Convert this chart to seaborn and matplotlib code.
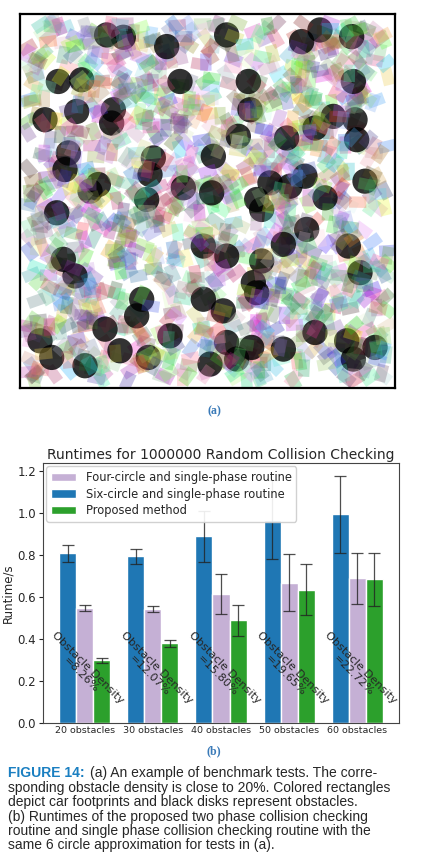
import numpy as np
import pandas as pd
import matplotlib
matplotlib.use("Agg")
import matplotlib.pyplot as plt
import seaborn as sns
from matplotlib.patches import Rectangle, Circle
import matplotlib.transforms as mtransforms

# ---------------------------------------------------------------
# data
# ---------------------------------------------------------------
groups = ["20 obstacles", "30 obstacles", "40 obstacles", "50 obstacles", "60 obstacles"]
densities = ["8.26%", "12.07%", "15.80%", "19.65%", "22.72%"]
six_mean = [0.81, 0.795, 0.89, 0.97, 0.995]
six_err = [0.04, 0.035, 0.12, 0.19, 0.185]
four_mean = [0.55, 0.545, 0.615, 0.67, 0.69]
four_err = [0.015, 0.015, 0.097, 0.137, 0.122]
prop_mean = [0.30, 0.38, 0.49, 0.635, 0.685]
prop_err = [0.012, 0.016, 0.075, 0.122, 0.127]

series = ["Six-circle and single-phase routine",
          "Four-circle and single-phase routine",
          "Proposed method"]
colors = ["#1f77b4", "#c5b0d5", "#2ca02c"]

# obstacle disk centres, in image-zoom units (box = 0..1125)
disk_x = [260, 310, 440, 620, 845, 900, 995, 115, 185, 480, 685, 1000,
          75, 170, 280, 275, 690, 655, 800, 885, 940, 1005, 1010, 145, 135,
          400, 390, 235, 210, 380, 490, 580, 575, 750, 810, 855, 915, 1035,
          710, 725, 110, 860, 550, 620, 790, 725, 985, 1020, 130, 165, 365,
          350, 550, 610, 710, 700, 255, 450, 60, 95, 195, 300, 385, 570, 620,
          650, 695, 790, 885, 980, 1065, 1000]
disk_y = [63, 70, 98, 63, 83, 48, 68, 203, 198, 203, 203, 203,
          318, 293, 288, 328, 288, 368, 373, 343, 308, 318, 378, 418, 468,
          433, 483, 513, 533, 558, 523, 428, 538, 508, 518, 488, 553, 503,
          558, 588, 598, 648, 698, 728, 693, 743, 698, 778, 738, 788, 858,
          908, 858, 893, 838, 808, 948, 968, 983, 1033, 1058, 1013, 1033,
          1053, 988, 1038, 1003, 1008, 958, 983, 1003, 1038]

df = pd.DataFrame({
    "group": groups * 3,
    "series": sum([[s] * 5 for s in series], []),
    "runtime": six_mean + four_mean + prop_mean,
})
errs = six_err + four_err + prop_err

# ---------------------------------------------------------------
# figure
# ---------------------------------------------------------------
sns.set_style("white")
plt.rcParams["font.family"] = ["DejaVu Sans"]
W, H = 428, 863
fig = plt.figure(figsize=(W / 100, H / 100), dpi=100)

def box(l, t, r, b):
    return [l / W, 1 - b / H, (r - l) / W, (b - t) / H]

# ---- (a) benchmark scene ----
axa = fig.add_axes(box(20, 14, 395, 388))
axa.set_xlim(0, 1125)
axa.set_ylim(1125, 0)

# car footprints: texture of random translucent rectangles
rng = np.random.default_rng(14)
n_rect = 1300
rx = rng.uniform(20, 1105, n_rect)
ry = rng.uniform(20, 1105, n_rect)
ang = rng.uniform(0, 180, n_rect)
cols = rng.uniform(0.1, 1.0, (n_rect, 3))

def add_rect(x, y, a, c, z):
    r = Rectangle((x - 26, y - 17), 52, 34, facecolor=c, alpha=0.3,
                  edgecolor="none", zorder=z)
    r.set_transform(mtransforms.Affine2D().rotate_deg_around(x, y, a) + axa.transData)
    axa.add_patch(r)
    r.set_clip_path(axa.patch)

for x, y, a, c in zip(rx[:700], ry[:700], ang[:700], cols[:700]):
    add_rect(x, y, a, c, 1)
for x, y in zip(disk_x, disk_y):
    axa.add_patch(Circle((x, y), 38, facecolor="black", alpha=0.8,
                         edgecolor="none", zorder=2))
for x, y, a, c in zip(rx[700:], ry[700:], ang[700:], cols[700:]):
    add_rect(x, y, a, c, 3)
axa.set_xticks([])
axa.set_yticks([])
for s in axa.spines.values():
    s.set_linewidth(1.6)
    s.set_color("black")
    s.set_zorder(5)

fig.text(214 / W, 1 - 411 / H, "(a)", ha="center", va="center",
         color="#3a7ab8", fontsize=8.5, fontweight="bold", family="Liberation Serif")

# ---- (b) runtimes ----
axb = fig.add_axes(box(43, 463, 399, 723))
sns.barplot(data=df, x="group", y="runtime", hue="series", hue_order=series,
            palette=colors, width=0.75, saturation=1, errorbar=None, ax=axb)
bars = axb.patches[:15]
for p, e in zip(bars, errs):
    cx = p.get_x() + p.get_width() / 2
    axb.errorbar(cx, p.get_height(), yerr=e, fmt="none", ecolor="#222222",
                 elinewidth=0.9, capsize=4, capthick=0.9, alpha=0.8)
for i, d in enumerate(densities):
    cx = bars[5 + i].get_x() + bars[5 + i].get_width() / 2
    axb.text(cx, 0.245, "Obstacle Density\n=" + d, rotation=-45,
             ha="center", va="center", fontsize=8.2, rotation_mode="anchor",
             linespacing=1.0)
axb.set_ylim(0, 1.24)
axb.set_yticks([0, 0.2, 0.4, 0.6, 0.8, 1.0, 1.2])
axb.set_yticklabels(["0.0", "0.2", "0.4", "0.6", "0.8", "1.0", "1.2"], fontsize=8.5)
axb.tick_params(axis="x", labelsize=6.8, length=0, pad=2)
axb.tick_params(axis="y", length=3, left=True, pad=2)
axb.set_xlabel("")
axb.set_ylabel("Runtime/s", fontsize=8.5, labelpad=2)
axb.set_title("Runtimes for 1000000 Random Collision Checking", fontsize=10, pad=3)
for s in axb.spines.values():
    s.set_color("#444444")
    s.set_linewidth(0.8)
h, l = axb.get_legend_handles_labels()
axb.legend([h[1], h[0], h[2]], [l[1], l[0], l[2]], loc="upper left",
           fontsize=8.3, frameon=True, borderaxespad=0.3, handlelength=2.2,
           labelspacing=0.3, framealpha=0.9)

fig.text(214 / W, 1 - 751 / H, "(b)", ha="center", va="center",
         color="#3a7ab8", fontsize=8.5, fontweight="bold", family="Liberation Serif")

# ---- caption ----
cap = ["(a) An example of benchmark tests. The corre-",
       "sponding obstacle density is close to 20%. Colored rectangles",
       "depict car footprints and black disks represent obstacles.",
       "(b) Runtimes of the proposed two phase collision checking",
       "routine and single phase collision checking routine with the",
       "same 6 circle approximation for tests in (a)."]
ys = [773, 788, 802, 817, 831, 845]
fs = 10.0
fig.text(8 / W, 1 - ys[0] / H, "FIGURE 14:", color="#1a7fc1",
         fontsize=fs, family="Liberation Sans", va="center", fontweight="bold")
fig.text(90 / W, 1 - ys[0] / H, cap[0], fontsize=fs,
         family="Liberation Sans", va="center")
for line, y in zip(cap[1:], ys[1:]):
    fig.text(8 / W, 1 - y / H, line, fontsize=fs,
             family="Liberation Sans", va="center")

fig.savefig("out.png", dpi=100)
